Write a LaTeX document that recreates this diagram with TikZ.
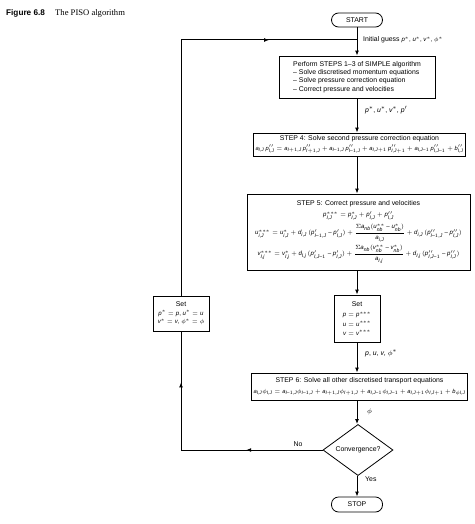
\documentclass[tikz,border=0pt]{standalone}
\usepackage{fontspec}
\setmainfont{Liberation Sans}
\newfontfamily\capserif{Liberation Serif}
\usepackage[italic]{mathastext}
\usetikzlibrary{shapes.geometric,arrows.meta,decorations.markings}
\newcommand{\eqsz}{\fontsize{6.1}{7.4}\selectfont}
\newcommand{\eqsm}{\fontsize{5.8}{7}\selectfont}
\tikzset{
  every node/.style={font=\fontsize{6.9}{8.4}\selectfont, inner sep=1pt},
  box/.style={draw, line width=0.8pt, inner sep=2pt},
  term/.style={draw, line width=0.8pt, rounded corners=7pt, minimum width=51pt, minimum height=14pt},
  dec/.style={draw, line width=0.8pt, diamond, minimum width=70pt, minimum height=41pt, inner sep=0pt},
  line/.style={line width=1pt},
  arr/.style={line width=1pt, -{Latex[length=5pt,width=4pt]}},
  midarr/.style={line width=1pt, postaction={decorate},
    decoration={markings, mark=at position #1 with {\arrow{Latex[length=5pt,width=4pt]}}}},
  lbl/.style={anchor=west}
}
\begin{document}
\begin{tikzpicture}[x=1pt,y=-1pt]
\useasboundingbox (0,0) rectangle (474,524);
% caption
\node[anchor=base west, font=\fontsize{8.2}{9}\selectfont\bfseries] (fig) at (5,16) {Figure 6.8};
\node[anchor=base west, font=\capserif\fontsize{8.6}{10}\selectfont] (cap) at (54,16) {The PISO algorithm};

\coordinate (m) at (357,0);
\node[term] (start) at (357,20) {START};

\node[box, minimum width=156pt, minimum height=42pt, align=left] (b1) at (357,77)
 {Perform STEPS 1--3 of SIMPLE algorithm\\
  -- Solve discretised momentum equations\\
  -- Solve pressure correction equation\\
  -- Correct pressure and velocities};

\node[box, minimum width=205pt, minimum height=23pt, align=center] (b2) at (359.5,144.5)
 {STEP 4: Solve second pressure correction equation\\[1pt]
  {\eqsm$a_{I,J}\,p''_{I,J} = a_{I+1,J}\,p''_{I+1,J} + a_{I-1,J}\,p''_{I-1,J} + a_{I,J+1}\,p''_{I,J+1} + a_{I,J-1}\,p''_{I,J-1} + b''_{I,J}$}};

\node[box, minimum width=223pt, minimum height=76pt, align=center] (b3) at (358.5,232)
 {STEP 5: Correct pressure and velocities\\[3pt]
  {\eqsz$p^{***}_{I,J} = p^{*}_{I,J} + p'_{I,J} + p''_{I,J}$}\\[3pt]
  {\eqsz$u^{***}_{i,J} = u^{*}_{i,J} + d_{i,J}\,(p'_{I-1,J} - p'_{I,J}) + {\displaystyle\frac{\Sigma a_{nb}(u^{**}_{nb} - u^{*}_{nb})}{a_{i,J}}} + d_{i,J}\,(p''_{I-1,J} - p''_{I,J})$}\\[2pt]
  {\eqsz$v^{***}_{I,j} = v^{*}_{I,j} + d_{I,j}\,(p'_{I,J-1} - p'_{I,J}) + {\displaystyle\frac{\Sigma a_{nb}(v^{**}_{nb} - v^{*}_{nb})}{a_{I,j}}} + d_{I,j}\,(p''_{I,J-1} - p''_{I,J})$}};

\node[box, minimum width=46pt, minimum height=47pt, align=center] (set) at (357,318.5)
 {Set\\[2pt] {\eqsz$p = p^{***}$}\\[1pt] {\eqsz$u = u^{***}$}\\[1pt] {\eqsz$v = v^{***}$}};

\node[box, minimum width=205pt, minimum height=27pt, align=center] (b5) at (359.5,386.5)
 {STEP 6: Solve all other discretised transport equations\\[2pt]
  {\eqsm$a_{I,J}\phi_{I,J} = a_{I-1,J}\phi_{I-1,J} + a_{I+1,J}\phi_{I+1,J} + a_{I,J-1}\phi_{I,J-1} + a_{I,J+1}\phi_{I,J+1} + b_{\phi I,J}$}};

\node[dec] (conv) at (358,450) {Convergence?};
\node[term, minimum height=15pt] (stop) at (357,504.5) {STOP};

\node[box, minimum width=56pt, minimum height=35pt, align=center] (lset) at (181,313.5)
 {Set\\ {\eqsz$p^{*} = p$, $u^{*} = u$}\\ {\eqsz$v^{*} = v$, $\phi^{*} = \phi$}};

% main flow
\draw[arr] (start) -- (b1);
\draw[arr] (b1.south) -- (m |- b2.north);
\draw[arr] (m |- b2.south) -- (m |- b3.north);
\draw[arr] (m |- b3.south) -- (set.north);
\draw[arr] (set.south) -- (m |- b5.north);
\draw[arr] (m |- b5.south) -- (m |- conv.north);
\draw[arr] (m |- conv.south) -- (stop.north);

% loop
\coordinate (bl) at (181,450);
\coordinate (tl) at (181,40);
\coordinate (jn) at (357,40);
\draw[midarr=0.54] (conv.west) -- (bl);
\draw[midarr=0.57] (bl) -- (lset.south);
\draw[line] (lset.north) -- (tl);
\draw[midarr=0.5] (tl) -- (jn);

% labels
\node[lbl] (l1) at (362,40) {Initial guess {\eqsz$p^{*}$, $u^{*}$, $v^{*}$, $\phi^{*}$}};
\node[lbl] (l2) at (364,110) {$p^{*}$, $u^{*}$, $v^{*}$, $p'$};
\node[lbl] (l3) at (364,353) {$p$, $u$, $v$, $\phi^{*}$};
\node[lbl] (l4) at (366,412) {$\phi$};
\node (l5) at (298,444) {No};
\node[lbl] (l6) at (364,479) {Yes};
\end{tikzpicture}
\end{document}
